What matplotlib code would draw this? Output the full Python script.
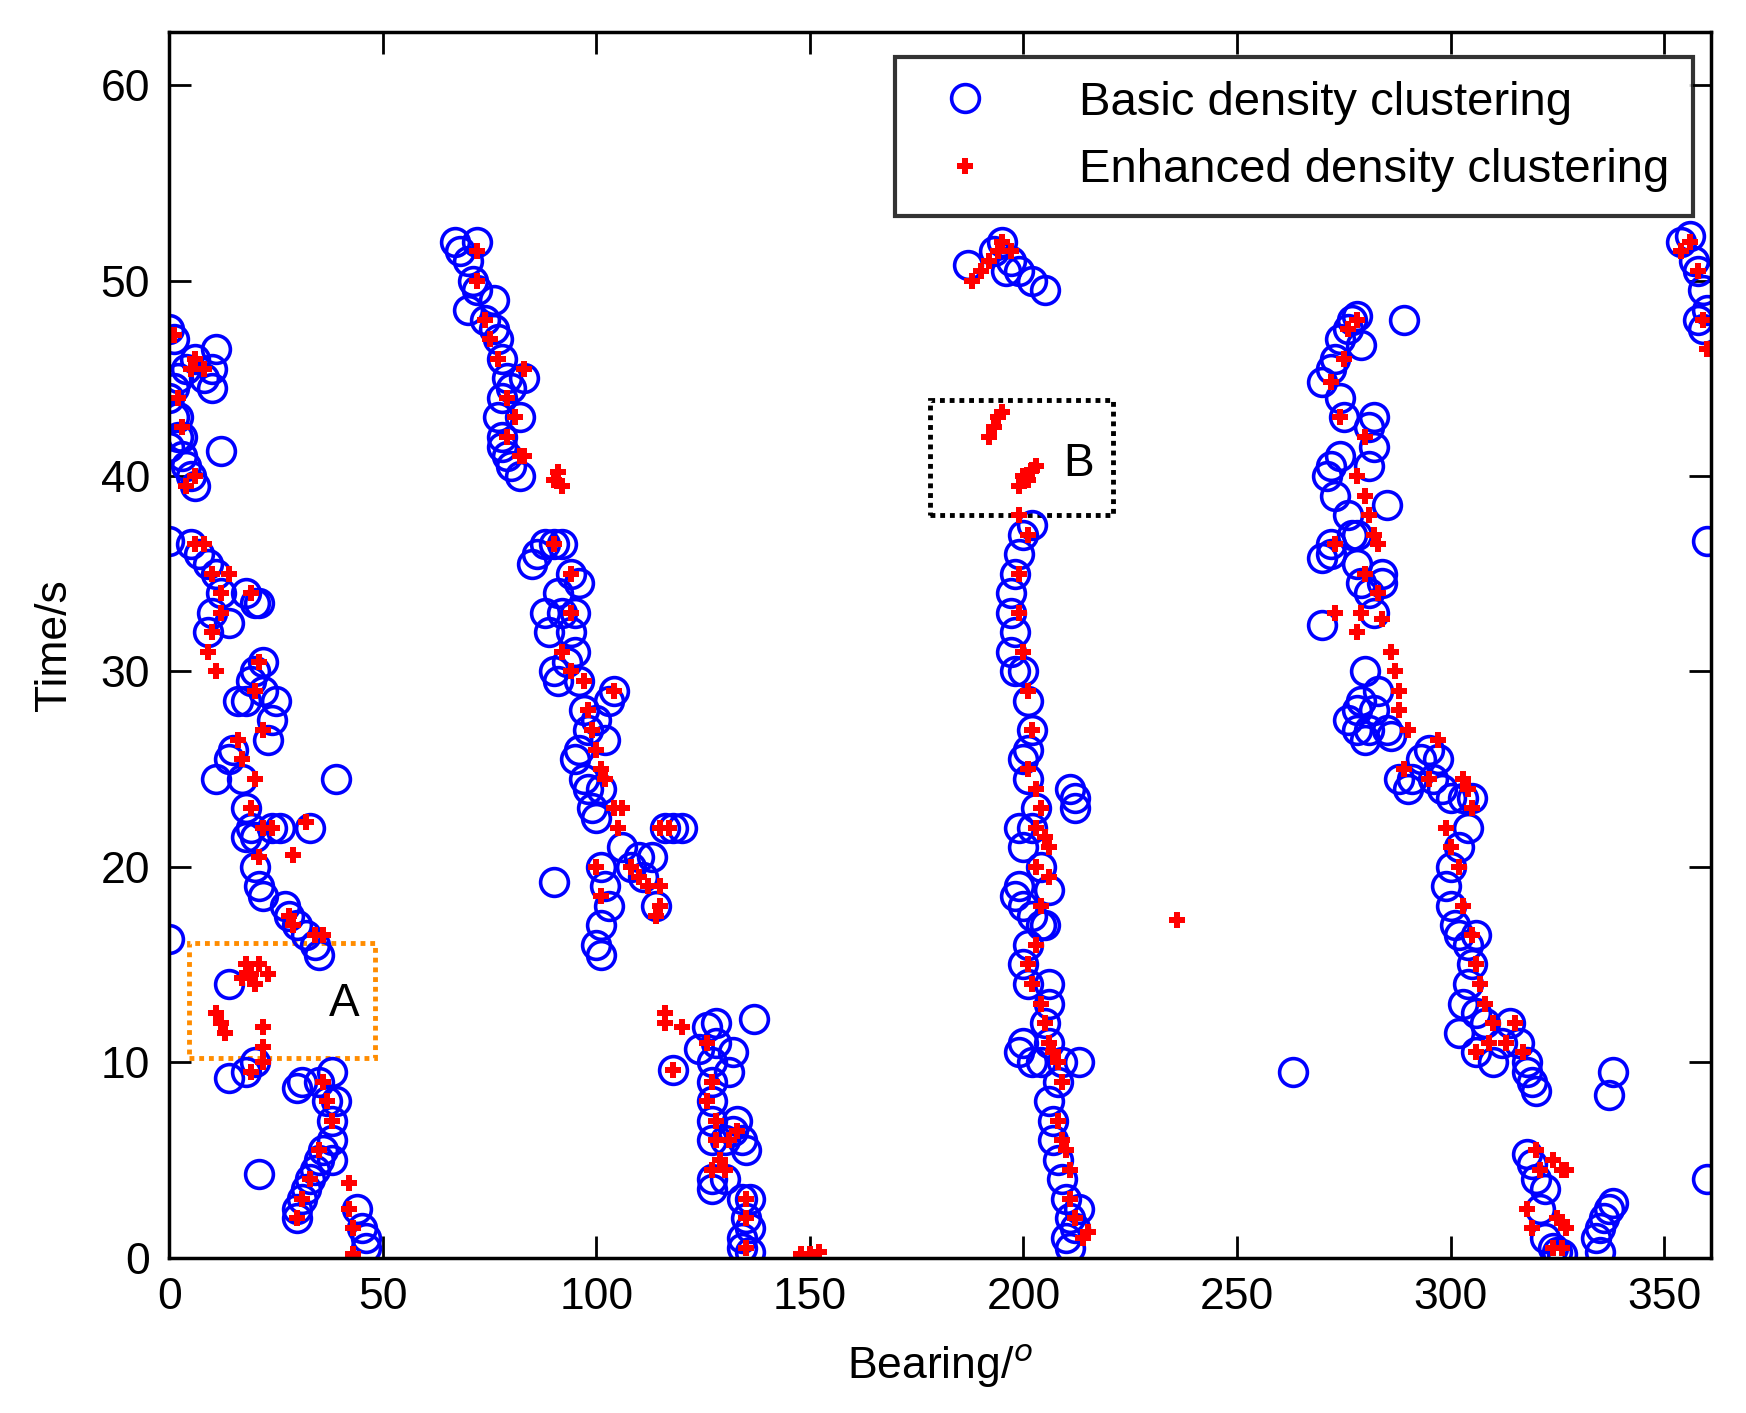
import matplotlib.pyplot as plt
from matplotlib.patches import Rectangle

# Basic density clustering (blue circles): bearing (deg), time (s)
basic_x = [
    0, 1, 0, 1, 2, 0, 3, 4, 5, 6, 2, 4, 6, 8, 10, 11, 10, 12, 1, 2, 3,
    0, 5, 7, 9, 11, 12, 10, 9, 14, 18, 20, 21, 22, 20, 19, 18, 16, 15, 14, 17, 18, 19, 20, 18,
    20, 21, 22, 24, 26, 23, 24, 25, 22, 27, 28, 30, 32, 34, 35, 33, 39, 11, 0,
    14, 14, 18, 20, 30, 31, 35, 38, 37, 38, 38, 36, 35, 34, 33, 32, 31, 30, 30, 21, 44, 45, 46, 46, 39, 38,
    67, 68, 70, 72, 71, 72, 70, 74, 76, 77, 78, 79, 80, 78, 77, 78, 79, 80, 82, 78, 83, 82, 76,
    85, 86, 88, 90, 92, 94, 96, 95, 94, 92, 91, 88, 89, 90, 91, 93, 95, 96, 97, 98, 96, 95, 97, 98,
    99, 100, 101, 100, 103, 104, 102, 101, 102, 103, 101, 100, 101, 90, 108, 110, 111, 113, 114, 116, 118, 120, 106,
    118, 124, 126, 128, 128, 127, 127, 127, 127, 127, 127, 127, 130, 130, 132, 133, 134, 135, 131, 132,
    137, 134, 135, 134, 134, 136, 136, 136,
    187, 193, 195, 197, 199, 202, 205, 196,
    202, 200, 199, 198, 197, 197, 198, 197, 198, 200, 201, 202, 201, 200, 201, 203, 202, 199, 200, 204,
    199, 198, 200, 202, 204, 206, 205, 201, 200, 201, 206, 206, 205, 206, 200, 199, 202, 204, 209, 213,
    208, 206, 207, 207, 208, 209, 210, 211, 210, 211, 212, 213, 211, 212, 212,
    263,
    270, 272, 273, 274, 276, 277, 278, 279, 289, 274, 275, 274, 272, 271, 273, 276, 278, 281, 282, 281,
    282, 277, 272, 272, 270, 270, 278, 279, 281, 282, 284, 285, 284, 280, 279, 278, 276, 278, 280, 281,
    282, 283, 285, 286, 288, 290, 291, 293, 295, 297, 296, 298, 300, 303, 305, 304, 302, 300, 299, 300,
    301, 302, 304, 306, 305, 304, 303, 306, 308, 302, 306, 310, 312, 314, 316, 318, 319, 320, 318,
    318, 319, 320, 322, 321, 324, 325, 326, 322, 334, 335, 336, 337, 338, 335, 338, 337,
    354, 356, 357, 358, 359, 360, 358, 359, 360, 360,
]
basic_y = [
    47.5, 47, 44, 43, 42, 41.5, 41, 40.5, 40, 39.5, 45, 45.5, 46, 45, 44.5, 46.5, 45.5, 41.3, 44.5, 43, 42,
    36.7, 36.5, 36, 35.5, 35, 34, 33, 32, 32.5, 34, 33.5, 33.5, 30.5, 30, 29.5, 28.5, 28.5, 26, 25.5, 24.5, 23, 22, 21.5, 21.5,
    20, 19, 18.5, 22, 22, 26.5, 27.5, 28.5, 29, 18, 17.5, 17, 16.5, 16, 15.5, 22, 24.5, 24.5, 16.3,
    14, 9.2, 9.5, 10, 8.7, 9, 9, 9.5, 8, 7, 6, 5.5, 5, 4.5, 4, 3.5, 3, 2.5, 2, 4.3, 2.5, 1.5, 1, 0.5, 8, 5,
    52, 51.5, 51, 52, 50, 49.5, 48.5, 48, 47.5, 47, 46, 45, 44.5, 44, 43, 42, 41, 40.5, 40, 41.5, 45, 43, 49,
    35.5, 36, 36.5, 36.5, 36.5, 35, 34.5, 33, 32, 33, 34, 33, 32, 30, 29.5, 30.5, 31, 29.5, 28, 27, 26, 25.5, 24.5, 24,
    23, 22.5, 24, 27.5, 28.5, 29, 26.5, 20, 19, 18, 17, 16, 15.5, 19.2, 20, 20.5, 19.5, 20.5, 18, 22, 22, 22, 21,
    9.6, 10.7, 11.8, 12, 11, 10, 9, 8, 7, 6, 4, 3.5, 4, 6, 6.5, 7, 6, 5.5, 9.5, 10.5,
    12.2, 3, 2, 1, 0.5, 3, 1.5, 0.3,
    50.8, 51.5, 52, 51, 50.5, 50, 49.5, 50.5,
    37.5, 37, 36, 35, 34, 33, 32, 31, 30, 30, 28.5, 27, 26, 25.5, 24.5, 23, 22, 22, 21, 20,
    19, 18.5, 18, 17.5, 17, 18.8, 17, 16, 15, 14, 14, 13, 12, 11, 11, 10.5, 10, 10, 10, 10,
    9, 8, 7, 6, 5, 4, 3, 2, 1, 0.5, 1.5, 2.5, 24, 23, 23.5,
    9.5,
    44.8, 45.5, 46, 47, 47.5, 48, 48.2, 46.7, 48, 44, 43, 41, 40.5, 40, 39, 38, 37, 42.5, 41.5, 40.5,
    43, 37, 36.5, 36, 35.8, 32.4, 35.5, 34.5, 34, 33, 35, 38.5, 34.5, 30, 28.5, 28, 27.5, 27, 26.5, 27,
    28, 29, 27, 26.7, 24.5, 24, 24.5, 25.5, 26, 25.5, 24.5, 24, 23.5, 23.5, 23.5, 22, 21, 20, 19, 18,
    17, 16.5, 16, 16.5, 15, 14, 13, 12.5, 12, 11.5, 10.5, 10, 11, 12, 11, 10, 9, 8.5, 9.5,
    5.3, 4.8, 4, 3.5, 2.5, 0.5, 0.3, 0.2, 1, 1, 1.5, 2, 2.5, 2.8, 0.3, 9.5, 8.3,
    52, 52.3, 51, 50.5, 49.5, 48.5, 48, 47.5, 36.7, 4,
]

# Enhanced density clustering (red markers)
enh_x = [
    1, 2, 3, 5, 6, 8, 6, 4, 6, 8, 10, 12, 14, 12, 10, 9, 11, 19, 21, 20, 22, 16, 17, 20, 19, 22, 24, 21,
    29, 32, 28, 29, 34, 36,
    11, 12, 13, 17, 18, 19, 20, 21, 23, 22, 22, 22, 19,
    36, 37, 38, 35, 33, 31, 30, 42, 42, 43, 43,
    72, 72, 74, 75, 77, 79, 79, 81, 83, 82, 83, 91, 92, 90,
    90, 94, 94, 92, 94, 97, 98, 99, 101, 102, 100, 104, 104, 106, 105, 100, 101, 108, 110, 112, 115, 115,
    114, 115, 117, 116, 116, 120, 118,
    126, 127, 126, 128, 128, 129, 127, 130, 133, 131, 135, 135, 135, 150, 152, 148,
    188, 190, 192, 194, 195, 197,
    192, 193, 194, 195, 200, 201, 202, 203, 199, 199,
    201, 199, 199, 200, 201, 202, 201, 203, 204, 203, 205, 206, 203, 206, 204, 203, 201, 202, 204, 205,
    206, 207, 208, 209, 208, 209, 210, 211, 211, 212, 214, 215, 236,
    272, 275, 276, 278, 274, 280, 278, 280, 281, 282, 283, 280, 279, 278, 283, 284, 273, 273, 286, 287,
    288, 288, 290, 289, 295, 297, 299, 300, 303, 304, 305, 302, 303, 305, 306, 307, 308, 310, 309, 306,
    313, 315, 317, 320, 318, 319, 321, 324, 326, 327, 325, 326, 327, 324, 326,
    354, 356, 358, 359, 360,
]
enh_y = [
    47.2, 44, 42.5, 45.5, 46, 45.5, 40, 39.5, 36.5, 36.5, 35, 34, 35, 33, 32, 31, 30, 34, 30.5, 29, 27, 26.5, 25.5, 24.5, 23, 22, 22, 20.5,
    20.6, 22.3, 17.5, 17, 16.5, 16.5,
    12.5, 12, 11.5, 14.3, 15, 14.5, 14, 15, 14.5, 11.8, 10.8, 10, 9.5,
    9, 8, 7, 5.5, 4, 3, 2, 3.8, 2.5, 1.5, 0.2,
    51.5, 50, 48, 47, 46, 44, 42, 43, 45.5, 41, 41, 40.2, 39.5, 39.8,
    36.5, 35, 33, 31, 30, 29.5, 28, 27, 25, 24.5, 26, 29, 23, 23, 22, 20, 18.5, 20, 19.5, 19, 19, 18,
    17.5, 22, 22, 12.5, 12, 11.8, 9.6,
    11, 9, 8, 7, 6, 5, 4.5, 4.5, 6.5, 6, 3, 2, 0.5, 0.2, 0.3, 0.2,
    50, 50.5, 51, 51.5, 52, 51.5,
    42, 42.5, 43, 43.3, 40, 39.8, 40.3, 40.5, 39.5, 38,
    37, 35, 33, 31, 29, 27, 25, 24, 23, 22, 21.5, 21, 20, 19.5, 18, 16, 15, 14, 13, 12,
    11, 10.5, 10, 9, 7, 6, 5.5, 4.5, 3, 2, 1, 1.3, 17.3,
    44.8, 46, 47.5, 48, 43, 42, 40, 39, 38, 37, 36.5, 35, 33, 32, 34, 32.7, 33, 36.5, 31, 30,
    29, 28, 27, 25, 24.5, 26.5, 22, 21, 24.5, 24, 23, 20, 18, 16.5, 15, 14, 13, 12, 11, 10.5,
    11, 12, 10.5, 5.5, 2.5, 1.5, 4.5, 5, 4.5, 4.5, 2, 1.8, 1.5, 0.5, 0.5,
    51.5, 52, 50.5, 48, 46.5,
]

x_ticks = [0, 50, 100, 150, 200, 250, 300, 350]
y_ticks = [0, 10, 20, 30, 40, 50, 60]

plt.rcParams["font.family"] = ["Liberation Sans", "DejaVu Sans"]

fig = plt.figure(figsize=(17.46, 14.13), dpi=100)
ax = fig.add_axes([0.097, 0.110, 0.883, 0.867])

ax.plot(basic_x, basic_y, "o", ls="none", mfc="none", mec="#0000ff",
        ms=20, mew=2.6, label="Basic density clustering")
ax.plot(enh_x, enh_y, "P", ls="none", color="#ff0000", ms=12, mew=0,
        label="Enhanced density clustering")

# highlighted regions A and B
ax.add_patch(Rectangle((4.7, 10.2), 43.4, 5.9, fill=False, ec="#ff8c00",
                       lw=3.5, ls=(0, (1, 1))))
ax.text(41, 13.0, "A", fontsize=33, ha="center", va="center")
ax.add_patch(Rectangle((178, 38.0), 43, 5.9, fill=False, ec="black",
                       lw=3.5, ls=(0, (1, 1))))
ax.text(213, 40.6, "B", fontsize=33, ha="center", va="center")

ax.set_xlim(0, 361)
ax.set_ylim(0, 62.7)
ax.set_xticks(x_ticks)
ax.set_yticks(y_ticks)
ax.tick_params(direction="in", length=16, width=2, labelsize=32,
               top=True, right=True, pad=14)
for s in ax.spines.values():
    s.set_linewidth(2.5)
ax.set_xlabel("Bearing/$^o$", fontsize=32, labelpad=18)
ax.set_ylabel("Time/s", fontsize=32, labelpad=18)

leg = ax.legend(loc="upper right", fontsize=34, frameon=True, fancybox=False,
                edgecolor="black", borderpad=0.5, handletextpad=1.4,
                borderaxespad=0, bbox_to_anchor=(0.988, 0.98))
leg.get_frame().set_linewidth(3)

fig.savefig("out.png", dpi=100)
